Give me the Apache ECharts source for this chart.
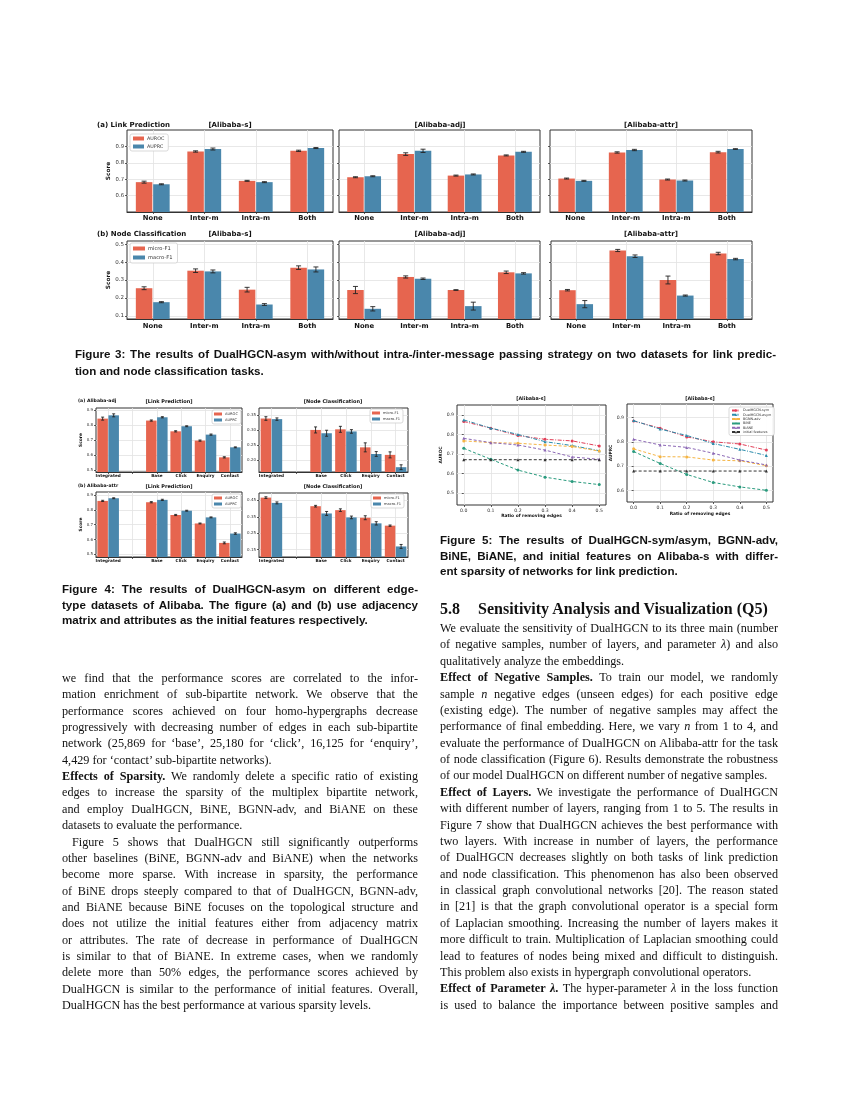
<!DOCTYPE html>
<html><head><meta charset="utf-8">
<script src="https://cdn.jsdelivr.net/npm/echarts@6/dist/echarts.min.js"></script>
<style>
html,body{margin:0;padding:0;background:#fff;}
#page{position:relative;width:850px;height:1100px;overflow:hidden;background:#fff;}
#chart{position:absolute;left:0;top:0;width:850px;height:1100px;}
.ln{position:absolute;white-space:nowrap;text-align:justify;text-align-last:justify;color:#111;}
.ln.last{text-align-last:left;}
.body{font-family:"Liberation Serif",serif;font-size:12.2px;line-height:16px;}
.cap{font-family:"Liberation Sans",sans-serif;font-weight:bold;font-size:11.6px;line-height:16px;}
.head{font-family:"Liberation Serif",serif;font-weight:bold;font-size:16px;line-height:20px;position:absolute;white-space:nowrap;color:#111;}
</style>
</head><body>
<div id="page"><div id="chart"></div></div>
<script>
// ---------------- DATA ----------------
const fig3Cats = ['None','Inter-m','Intra-m','Both'];
const fig3LpTicks = [0.6,0.7,0.8,0.9];
const fig3NcTicks = [0.1,0.2,0.3,0.4,0.5];
// (a) Link prediction
const lpS_AUROC = [0.682,0.869,0.690,0.873];
const lpS_AUPRC = [0.669,0.884,0.682,0.890];
const lpS_errAUROC = [0.006,0.004,0.003,0.004];
const lpS_errAUPRC = [0.003,0.006,0.003,0.003];
const lpAdj_AUROC = [0.712,0.853,0.722,0.845];
const lpAdj_AUPRC = [0.718,0.873,0.729,0.867];
const lpAdj_errAUROC = [0.003,0.008,0.003,0.003];
const lpAdj_errAUPRC = [0.003,0.010,0.003,0.003];
const lpAttr_AUROC = [0.704,0.863,0.698,0.865];
const lpAttr_AUPRC = [0.690,0.878,0.692,0.884];
const lpAttr_errAUROC = [0.003,0.004,0.003,0.005];
const lpAttr_errAUPRC = [0.003,0.004,0.003,0.002];
// (b) Node classification
const ncS_micro = [0.254,0.352,0.246,0.369];
const ncS_macro = [0.176,0.348,0.163,0.359];
const ncS_errMicro = [0.008,0.010,0.013,0.010];
const ncS_errMacro = [0.003,0.008,0.005,0.014];
const ncAdj_micro = [0.244,0.317,0.244,0.343];
const ncAdj_macro = [0.139,0.307,0.154,0.337];
const ncAdj_errMicro = [0.020,0.006,0.002,0.007];
const ncAdj_errMacro = [0.012,0.004,0.022,0.004];
const ncAttr_micro = [0.243,0.465,0.300,0.448];
const ncAttr_macro = [0.165,0.433,0.213,0.417];
const ncAttr_errMicro = [0.004,0.006,0.022,0.007];
const ncAttr_errMacro = [0.020,0.007,0.003,0.004];

// Figure 4
const fig4Cats = ['Integrated','','Base','Click','Enquiry','Contact'];
const fig4LpTicks = [0.5,0.6,0.7,0.8,0.9];
const fig4NcAdjTicks = [0.20,0.25,0.30,0.35];
const fig4NcAttrTicks = [0.15,0.25,0.35,0.45];
const adjLP_AUROC = [0.844,null,0.831,0.759,0.697,0.585];
const adjLP_AUPRC = [0.866,null,0.853,0.793,0.737,0.652];
const adjLP_errAUROC = [0.010,0,0.004,0.004,0.004,0.004];
const adjLP_errAUPRC = [0.010,0,0.004,0.003,0.004,0.003];
const adjNC_micro = [0.339,null,0.301,0.303,0.243,0.218];
const adjNC_macro = [0.337,null,0.290,0.296,0.221,0.177];
const adjNC_errMicro = [0.006,0,0.010,0.010,0.015,0.010];
const adjNC_errMacro = [0.004,0,0.010,0.006,0.008,0.008];
const attrLP_AUROC = [0.860,null,0.851,0.765,0.708,0.577];
const attrLP_AUPRC = [0.878,null,0.867,0.794,0.749,0.640];
const attrLP_errAUROC = [0.004,0,0.004,0.004,0.003,0.006];
const attrLP_errAUPRC = [0.003,0,0.004,0.003,0.003,0.005];
const attrNC_micro = [0.466,null,0.414,0.390,0.344,0.296];
const attrNC_macro = [0.434,null,0.370,0.346,0.310,0.170];
const attrNC_errMicro = [0.005,0,0.005,0.008,0.012,0.004];
const attrNC_errMacro = [0.006,0,0.012,0.008,0.010,0.012];

// Figure 5
const sparsityRatios = [0.0,0.1,0.2,0.3,0.4,0.5];
const fig5XTicks = [0.0,0.1,0.2,0.3,0.4,0.5];
const fig5AurocTicks = [0.5,0.6,0.7,0.8,0.9];
const fig5AuprcTicks = [0.6,0.7,0.8,0.9];
const methodNames = ['DualHGCN-sym','DualHGCN-asym','BGNN-adv','BiNE','BiANE','initial features'];
const auroc_sym  = [0.866,0.832,0.794,0.775,0.767,0.741];
const auroc_asym = [0.874,0.832,0.800,0.763,0.743,0.717];
const auroc_bgnn = [0.767,0.758,0.755,0.746,0.738,0.715];
const auroc_bine = [0.729,0.673,0.618,0.582,0.560,0.544];
const auroc_biane= [0.780,0.758,0.746,0.720,0.685,0.673];
const auroc_init = [0.671,0.671,0.671,0.671,0.671,0.671];
const auprc_sym  = [0.885,0.856,0.820,0.800,0.791,0.766];
const auprc_asym = [0.887,0.852,0.826,0.793,0.769,0.744];
const auprc_bgnn = [0.771,0.739,0.738,0.725,0.722,0.702];
const auprc_bine = [0.760,0.711,0.666,0.633,0.615,0.601];
const auprc_biane= [0.810,0.787,0.777,0.753,0.725,0.705];
const auprc_init = [0.680,0.680,0.680,0.680,0.680,0.680];

// ---------------- STYLE / BUILD ----------------
const RED='#E6654F', BLUE='#4A87AC';
const FONT='"DejaVu Sans", sans-serif';
const GRIDC='#e2e2e2';
const option={animation:false, backgroundColor:'transparent', grid:[], xAxis:[], yAxis:[], series:[], legend:[], graphic:[]};

function baseGrid(r){
  const gi=option.grid.length;
  option.grid.push({left:r[0],top:r[1],width:r[2],height:r[3],show:true,borderColor:'#333',borderWidth:1,backgroundColor:'#fff',containLabel:false,outerBoundsMode:'none'});
  return gi;
}
function errSeries(gi, vals, errs, side, barW, gap, capW){
  const data=[];
  vals.forEach((v,i)=>{ if(v!=null) data.push([i, v-errs[i], v+errs[i]]); });
  return {type:'custom', xAxisIndex:gi, yAxisIndex:gi, data, z:5, silent:true, clip:false,
    encode:{x:0,y:[1,2]},
    renderItem(params, api){
      const lo=api.coord([api.value(0), api.value(1)]);
      const hi=api.coord([api.value(0), api.value(2)]);
      const x=lo[0]+side*barW*(1+gap)/2;
      const c=capW/2;
      const st={stroke:'#222', lineWidth:0.9};
      return {type:'group', children:[
        {type:'line', shape:{x1:x,y1:lo[1],x2:x,y2:hi[1]}, style:st},
        {type:'line', shape:{x1:x-c,y1:lo[1],x2:x+c,y2:lo[1]}, style:st},
        {type:'line', shape:{x1:x-c,y1:hi[1],x2:x+c,y2:hi[1]}, style:st}]};
    }};
}
function addBarPanel(p){
  const gi=baseGrid(p.rect);
  option.xAxis.push({type:'category', gridIndex:gi, data:p.cats, boundaryGap:true,
    axisLine:{show:true,lineStyle:{color:'#333',width:1}},
    axisTick:{show:true,alignWithLabel:true,length:2,lineStyle:{color:'#333',width:0.8}},
    axisLabel:{interval:0,margin:p.catMargin,fontFamily:FONT,fontWeight:'bold',fontSize:p.catFont,color:'#111'},
    splitLine:{show:true,alignWithLabel:true,lineStyle:{color:GRIDC,width:0.8}}});
  option.yAxis.push({type:'value', gridIndex:gi, min:p.yMin, max:p.yMax,
    axisLine:{show:false},
    axisTick:{show:true,customValues:p.ticks,length:2,lineStyle:{color:'#333',width:0.8}},
    axisLabel:{show:p.showY,customValues:p.ticks,formatter:v=>(+v).toFixed(p.dec),margin:3,fontFamily:FONT,fontSize:p.tickFont,color:'#333'},
    splitLine:{show:true,lineStyle:{color:GRIDC,width:0.8}},
    name:p.yName||'', nameLocation:'middle', nameGap:p.nameGap||10,
    nameTextStyle:{fontFamily:FONT,fontWeight:'bold',fontSize:p.nameFont||6,color:'#111'}});
  const gap=0.05;
  option.series.push({type:'bar',name:p.names[0],xAxisIndex:gi,yAxisIndex:gi,data:p.s1.map(v=>v==null?'-':v),barWidth:p.barW,barGap:(gap*100)+'%',itemStyle:{color:RED},z:2,silent:true});
  option.series.push({type:'bar',name:p.names[1],xAxisIndex:gi,yAxisIndex:gi,data:p.s2.map(v=>v==null?'-':v),barWidth:p.barW,barGap:(gap*100)+'%',itemStyle:{color:BLUE},z:2,silent:true});
  option.series.push(errSeries(gi,p.s1,p.e1,-1,p.barW,gap,p.cap));
  option.series.push(errSeries(gi,p.s2,p.e2,1,p.barW,gap,p.cap));
  return gi;
}
function addLegend(names,left,top,fs,iw,ih,gap,pad,icon){
  const l={data:names,left,top,orient:'vertical',itemWidth:iw,itemHeight:ih,itemGap:gap,padding:pad,
    textStyle:{fontFamily:FONT,fontSize:fs,color:'#333',padding:[0,0,0,-2]},
    borderColor:'#cfcfcf',borderWidth:0.8,borderRadius:2,backgroundColor:'rgba(255,255,255,0.92)',selectedMode:false};
  if(icon) l.icon=icon;
  option.legend.push(l);
}
function txt(t,x,y,size,align,weight){
  option.graphic.push({type:'text',x,y,silent:true,style:{text:t,fontFamily:FONT,fontSize:size,fontWeight:weight||'bold',fill:'#111',align:align||'center',verticalAlign:'middle'}});
}

// ---- Figure 3 ----
const f3top={cats:fig3Cats,yMin:0.5,yMax:1.0,ticks:fig3LpTicks,dec:1,names:['AUROC','AUPRC'],barW:16.5,cap:5,catFont:6.8,catMargin:3,tickFont:5.3};
addBarPanel(Object.assign({},f3top,{rect:[127,130,206,82],s1:lpS_AUROC,s2:lpS_AUPRC,e1:lpS_errAUROC,e2:lpS_errAUPRC,showY:true,yName:'Score',nameGap:15,nameFont:5.8}));
addBarPanel(Object.assign({},f3top,{rect:[339,130,201,82],s1:lpAdj_AUROC,s2:lpAdj_AUPRC,e1:lpAdj_errAUROC,e2:lpAdj_errAUPRC,showY:false}));
addBarPanel(Object.assign({},f3top,{rect:[550,130,202,82],s1:lpAttr_AUROC,s2:lpAttr_AUPRC,e1:lpAttr_errAUROC,e2:lpAttr_errAUPRC,showY:false}));
const f3bot={cats:fig3Cats,yMin:0.082,yMax:0.518,ticks:fig3NcTicks,dec:1,names:['micro-F1','macro-F1'],barW:16.5,cap:5,catFont:6.8,catMargin:4,tickFont:5.5};
addBarPanel(Object.assign({},f3bot,{rect:[127,241,206,78],s1:ncS_micro,s2:ncS_macro,e1:ncS_errMicro,e2:ncS_errMacro,showY:true,yName:'Score',nameGap:15,nameFont:5.8}));
addBarPanel(Object.assign({},f3bot,{rect:[339,241,201,78],s1:ncAdj_micro,s2:ncAdj_macro,e1:ncAdj_errMicro,e2:ncAdj_errMacro,showY:false}));
addBarPanel(Object.assign({},f3bot,{rect:[551,241,201,78],s1:ncAttr_micro,s2:ncAttr_macro,e1:ncAttr_errMicro,e2:ncAttr_errMacro,showY:false}));
addLegend(['AUROC','AUPRC'],130,134,4.8,11,4,3,[2,4,2,3],'rect');
addLegend(['micro-F1','macro-F1'],130,243,5.2,12,4,4,[3,5,3,3],'rect');
txt('(a) Link Prediction',97,125,7,'left');
txt('[Alibaba-s]',230,125,7); txt('[Alibaba-adj]',440,125,7); txt('[Alibaba-attr]',651,125,7);
txt('(b) Node Classification',97,234,7,'left');
txt('[Alibaba-s]',230,234,7); txt('[Alibaba-adj]',440,234,7); txt('[Alibaba-attr]',651,234,7);

// ---- Figure 4 ----
const f4={cats:fig4Cats,barW:10.5,cap:3,catFont:4.2,catMargin:2,tickFont:4,showY:true};
addBarPanel(Object.assign({},f4,{rect:[96,408,146,64],yMin:0.487,yMax:0.915,ticks:fig4LpTicks,dec:1,names:['AUROC','AUPRC'],s1:adjLP_AUROC,s2:adjLP_AUPRC,e1:adjLP_errAUROC,e2:adjLP_errAUPRC,yName:'Score',nameGap:13,nameFont:4.4}));
addBarPanel(Object.assign({},f4,{rect:[259,408,149,64],yMin:0.161,yMax:0.374,ticks:fig4NcAdjTicks,dec:2,names:['micro-F1','macro-F1'],s1:adjNC_micro,s2:adjNC_macro,e1:adjNC_errMicro,e2:adjNC_errMacro}));
addBarPanel(Object.assign({},f4,{rect:[96,492,146,65],yMin:0.482,yMax:0.92,ticks:fig4LpTicks,dec:1,names:['AUROC','AUPRC'],s1:attrLP_AUROC,s2:attrLP_AUPRC,e1:attrLP_errAUROC,e2:attrLP_errAUPRC,yName:'Score',nameGap:13,nameFont:4.4}));
addBarPanel(Object.assign({},f4,{rect:[259,493,149,64],yMin:0.106,yMax:0.494,ticks:fig4NcAttrTicks,dec:2,names:['micro-F1','macro-F1'],s1:attrNC_micro,s2:attrNC_macro,e1:attrNC_errMicro,e2:attrNC_errMacro}));
addLegend(['AUROC','AUPRC'],212,410,3.6,8,3,2,[2,3,2,2],'rect');
addLegend(['micro-F1','macro-F1'],370,409,3.6,8,3,2,[2,3,2,2],'rect');
addLegend(['AUROC','AUPRC'],212,494,3.6,8,3,2,[2,3,2,2],'rect');
addLegend(['micro-F1','macro-F1'],371,494,3.6,8,3,2,[2,3,2,2],'rect');
txt('(a) Alibaba-adj',78,401,4.6,'left');
txt('[Link Prediction]',169,402,5); txt('[Node Classification]',333,402,5);
txt('(b) Alibaba-attr',78,486,4.6,'left');
txt('[Link Prediction]',169,487,5); txt('[Node Classification]',333,487,5);

// ---- Figure 5 ----
const lineStyles=[
  {color:'#E23E57',dash:[4,1.5,1,1.5],symbol:'circle'},
  {color:'#2B8CAB',dash:[4,1.5,1,1.5],symbol:'triangle'},
  {color:'#F5B545',dash:[3,2],symbol:'circle'},
  {color:'#2A9B7E',dash:[3,2],symbol:'circle'},
  {color:'#8C68B5',dash:[3,2],symbol:'triangle'},
  {color:'#333333',dash:[3,2],symbol:'triangle'}
];
function addLinePanel(p){
  const gi=baseGrid(p.rect);
  option.xAxis.push({type:'value',gridIndex:gi,min:-0.025,max:0.525,
    axisLine:{show:false},
    axisTick:{show:true,customValues:fig5XTicks,length:2,lineStyle:{color:'#333',width:0.8}},
    axisLabel:{customValues:fig5XTicks,formatter:v=>(+v).toFixed(1),margin:3,fontFamily:FONT,fontSize:4.6,color:'#333'},
    splitLine:{show:true,lineStyle:{color:GRIDC,width:0.8}},
    name:'Ratio of removing edges',nameLocation:'middle',nameGap:p.xNameGap,nameTextStyle:{fontFamily:FONT,fontWeight:'bold',fontSize:4.4,color:'#111'}});
  option.yAxis.push({type:'value',gridIndex:gi,min:p.yMin,max:p.yMax,
    axisLine:{show:false},
    axisTick:{show:true,customValues:p.ticks,length:2,lineStyle:{color:'#333',width:0.8}},
    axisLabel:{customValues:p.ticks,formatter:v=>(+v).toFixed(1),margin:3,fontFamily:FONT,fontSize:4.6,color:'#333'},
    splitLine:{show:true,lineStyle:{color:GRIDC,width:0.8}},
    name:p.yName,nameLocation:'middle',nameGap:p.yNameGap,nameTextStyle:{fontFamily:FONT,fontWeight:'bold',fontSize:4.4,color:'#111'}});
  p.series.forEach((vals,k)=>{
    const s=lineStyles[k];
    option.series.push({type:'line',name:methodNames[k],xAxisIndex:gi,yAxisIndex:gi,
      data:sparsityRatios.map((x,i)=>[x,vals[i]]),symbol:s.symbol,symbolSize:3,showSymbol:true,
      lineStyle:{color:s.color,width:1,type:s.dash},itemStyle:{color:s.color},z:3+k,silent:true});
  });
}
addLinePanel({rect:[457,405,149,100],yMin:0.44,yMax:0.95,ticks:fig5AurocTicks,yName:'AUROC',yNameGap:10,xNameGap:9,
  series:[auroc_sym,auroc_asym,auroc_bgnn,auroc_bine,auroc_biane,auroc_init]});
addLinePanel({rect:[627,404,146,98],yMin:0.553,yMax:0.955,ticks:fig5AuprcTicks,yName:'AUPRC',yNameGap:10,xNameGap:10,
  series:[auprc_sym,auprc_asym,auprc_bgnn,auprc_bine,auprc_biane,auprc_init]});
option.legend.push({data:methodNames,left:729,top:407,orient:'vertical',itemWidth:8,itemHeight:3,itemGap:1.3,padding:[2,3,2,2],
  textStyle:{fontFamily:FONT,fontSize:3.4,color:'#333',padding:[0,0,0,-2]},
  borderColor:'#cfcfcf',borderWidth:0.8,borderRadius:2,backgroundColor:'rgba(255,255,255,0.92)',selectedMode:false});
txt('[Alibaba-s]',531,399,4.8); txt('[Alibaba-s]',700,399,4.8);

const chart=echarts.init(document.getElementById('chart'),null,{renderer:'canvas',width:850,height:1100});
chart.setOption(option);

// ---------------- TEXT ----------------
const fig3Caption=[
 ['Figure 3: The results of DualHGCN-asym with/without intra-/inter-message passing strategy on two datasets for link predic-',''],
 ['tion and node classification tasks.','last']];
const fig4Caption=[
 ['Figure 4: The results of DualHGCN-asym on different edge-',''],
 ['type datasets of Alibaba. The figure (a) and (b) use adjacency',''],
 ['matrix and attributes as the initial features respectively.','last']];
const fig5Caption=[
 ['Figure 5: The results of DualHGCN-sym/asym, BGNN-adv,',''],
 ['BiNE, BiANE, and initial features on Alibaba-s with differ-',''],
 ['ent sparsity of networks for link prediction.','last']];
const leftText=[
 ['we find that the performance scores are correlated to the infor-',''],
 ['mation enrichment of sub-bipartite network. We observe that the',''],
 ['performance scores achieved on four homo-hypergraphs decrease',''],
 ['progressively with decreasing number of edges in each sub-bipartite',''],
 ['network (25,869 for ‘base’, 25,180 for ‘click’, 16,125 for ‘enquiry’,',''],
 ['4,429 for ‘contact’ sub-bipartite networks).','last'],
 ['<b>Effects of Sparsity.</b> We randomly delete a specific ratio of existing',''],
 ['edges to increase the sparsity of the multiplex bipartite network,',''],
 ['and employ DualHGCN, BiNE, BGNN-adv, and BiANE on these',''],
 ['datasets to evaluate the performance.','last'],
 ['Figure 5 shows that DualHGCN still significantly outperforms','indent'],
 ['other baselines (BiNE, BGNN-adv and BiANE) when the networks',''],
 ['become more sparse. With increase in sparsity, the performance',''],
 ['of BiNE drops steeply compared to that of DualHGCN, BGNN-adv,',''],
 ['and BiANE because BiNE focuses on the topological structure and',''],
 ['does not utilize the initial features either from adjacency matrix',''],
 ['or attributes. The rate of decrease in performance of DualHGCN',''],
 ['is similar to that of BiANE. In extreme cases, when we randomly',''],
 ['delete more than 50% edges, the performance scores achieved by',''],
 ['DualHGCN is similar to the performance of initial features. Overall,',''],
 ['DualHGCN has the best performance at various sparsity levels.','last']];
const rightText=[
 ['We evaluate the sensitivity of DualHGCN to its three main (number',''],
 ['of negative samples, number of layers, and parameter <i>λ</i>) and also',''],
 ['qualitatively analyze the embeddings.','last'],
 ['<b>Effect of Negative Samples.</b> To train our model, we randomly',''],
 ['sample <i>n</i> negative edges (unseen edges) for each positive edge',''],
 ['(existing edge). The number of negative samples may affect the',''],
 ['performance of final embedding. Here, we vary <i>n</i> from 1 to 4, and',''],
 ['evaluate the performance of DualHGCN on Alibaba-attr for the task',''],
 ['of node classification (Figure 6). Results demonstrate the robustness',''],
 ['of our model DualHGCN on different number of negative samples.','last'],
 ['<b>Effect of Layers.</b> We investigate the performance of DualHGCN',''],
 ['with different number of layers, ranging from 1 to 5. The results in',''],
 ['Figure 7 show that DualHGCN achieves the best performance with',''],
 ['two layers. With increase in number of layers, the performance',''],
 ['of DualHGCN decreases slightly on both tasks of link prediction',''],
 ['and node classification. This phenomenon has also been observed',''],
 ['in classical graph convolutional networks [20]. The reason stated',''],
 ['in [21] is that the graph convolutional operator is a special form',''],
 ['of Laplacian smoothing. Increasing the number of layers makes it',''],
 ['more difficult to train. Multiplication of Laplacian smoothing could',''],
 ['lead to features of nodes being mixed and difficult to distinguish.',''],
 ['This problem also exists in hypergraph convolutional operators.','last'],
 ['<b>Effect of Parameter <i>λ</i>.</b> The hyper-parameter <i>λ</i> in the loss function',''],
 ['is used to balance the importance between positive samples and','']];

const page=document.getElementById('page');
function placeLines(lines,x,w,y0,step,cls){
  lines.forEach((ln,i)=>{
    const d=document.createElement('div');
    d.className='ln '+cls+(ln[1]==='last'?' last':'');
    d.style.left=x+'px'; d.style.width=w+'px';
    d.style.top=(y0+i*step-9)+'px';
    if(ln[1]==='indent') d.style.textIndent='10px';
    d.innerHTML=ln[0];
    page.appendChild(d);
  });
}
placeLines(fig3Caption,75,701,355,16.5,'cap');
placeLines(fig4Caption,62,356,590,15.6,'cap');
placeLines(fig5Caption,440,338,541,15.6,'cap');
placeLines(leftText,62,356,679,16.35,'body');
placeLines(rightText,440,338,629,16.38,'body');
const h1=document.createElement('div'); h1.className='head'; h1.style.left='440px'; h1.style.top='599px'; h1.textContent='5.8'; page.appendChild(h1);
const h2=document.createElement('div'); h2.className='head'; h2.style.left='478px'; h2.style.top='599px'; h2.textContent='Sensitivity Analysis and Visualization (Q5)'; page.appendChild(h2);
</script>
</body></html>
